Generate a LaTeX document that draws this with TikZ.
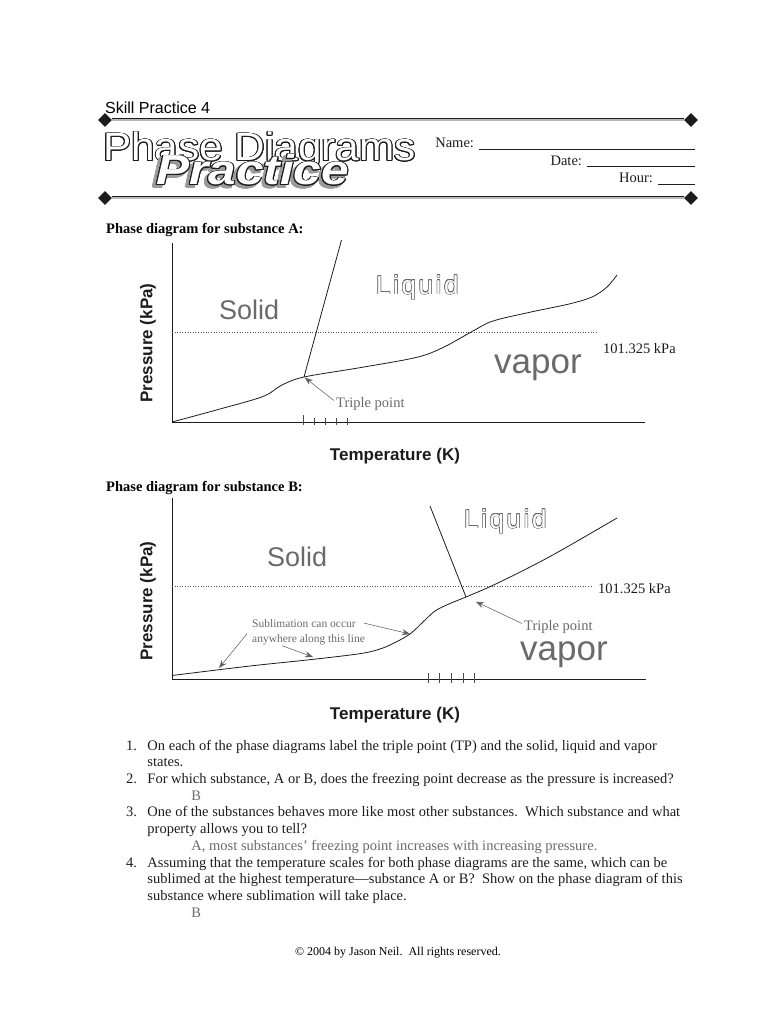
\documentclass[tikz,border=0pt]{standalone}
\usepackage{fontspec}
\setmainfont{Liberation Serif}
\setsansfont{Liberation Sans}
\usepackage{graphicx}
\usepackage{contour}
\usetikzlibrary{positioning}
\usetikzlibrary{shapes.geometric}
\usetikzlibrary{arrows.meta}
\definecolor{ink}{HTML}{1C1C1C}
\definecolor{pencil}{HTML}{6A6A6A}
\definecolor{shade}{HTML}{9A9A9A}
\contournumber{16}
\newcommand{\hollowtext}[3]{{\contourlength{#2}\contour{#1}{\textcolor{white}{#3}}}}
\newcommand{\answer}[1]{\textcolor{pencil}{#1}}
\tikzset{
  % header rules and the diamonds at their ends
  rule/.style={draw=ink, double=shade!70, double distance=1.8pt, line width=0.6pt},
  gem/.style={diamond, fill=ink, inner sep=0pt, minimum size=14pt},
  % axes, phase boundaries, the 1 atm line
  axis/.style={draw=ink, line width=1pt},
  boundary/.style={draw=ink, line width=0.8pt},
  atmline/.style={draw=ink!75, dotted, line width=0.6pt},
  tickmark/.style={draw=ink!80, line width=0.6pt},
  pointer/.style={-{Stealth[length=8pt, width=6pt]}, draw=ink!70, line width=0.5pt, fill=shade},
  % texts
  title/.style={font=\bfseries\fontsize{14.5}{16}\selectfont, inner sep=0pt},
  axislbl/.style={font=\sffamily\bfseries\fontsize{17}{20}\selectfont, text=ink, inner sep=0pt},
  phaselbl/.style={font=\sffamily\fontsize{#1}{#1}\selectfont, text=pencil, inner sep=0pt},
  body/.style={font=\fontsize{14.5}{16.7}\selectfont, text=ink, inner sep=0pt},
  note/.style={font=\fontsize{11.5}{14}\selectfont, text=pencil, inner sep=0pt},
}

\begin{document}
\begin{tikzpicture}[x=1pt, y=-1pt]
  \useasboundingbox (0,0) rectangle (768,1024);

  % --- Header -----------------------------------------------------------
  \node[font=\sffamily\fontsize{16}{18}\selectfont, anchor=base west, inner sep=0pt]
       (skill) at (105,113.5) {Skill Practice 4};

  \node[gem] (gemTL) at (105,120) {};
  \node[gem] (gemTR) at (691,120) {};
  \node[gem] (gemBL) at (105,198) {};
  \node[gem] (gemBR) at (691,198) {};
  \draw[rule] (gemTL) -- (gemTR);
  \draw[rule] (gemBL) -- (gemBR);

  \node[font=\sffamily\fontsize{39.5}{40}\selectfont, anchor=base west, inner sep=0pt]
       (banner) at (103,161) {\scalebox{1.07}[1]{\hollowtext{ink}{0.9pt}{Phase Diagrams}}};
  \node[font=\sffamily\bfseries\itshape\fontsize{42}{42}\selectfont, anchor=base west, inner sep=0pt]
       (bannershadow) at (153,187.5) {\scalebox{1.18}[1]{\hollowtext{shade}{1.2pt}{\textcolor{shade}{Practice}}}};
  \node[font=\sffamily\bfseries\itshape\fontsize{42}{42}\selectfont, anchor=base west, inner sep=0pt]
       (practice) at (156,185) {\scalebox{1.18}[1]{\hollowtext{ink}{0.9pt}{Practice}}};

  \node[body, anchor=base east] (name) at (695,148) {Name: \rule[-1.5pt]{216pt}{0.6pt}};
  \node[body, anchor=base east] (date) at (695,165.5) {Date: \rule[-1.5pt]{108pt}{0.6pt}};
  \node[body, anchor=base east] (hour) at (695,183) {Hour: \rule[-1.5pt]{37pt}{0.6pt}};

  % --- Phase diagram A ---------------------------------------------------
  \node[title, anchor=base west] (titleA) at (106,233.5) {Phase diagram for substance A:};

  \coordinate (oA) at (172,422);
  \coordinate (yA) at (172,243);
  \coordinate (xA) at (645,422);
  \coordinate (tpA) at (304,377);
  \coordinate (meltA) at (341.5,240);
  \draw[axis] (yA) -- (oA) -- (xA);
  \draw[atmline] (172,332) -- (598,332);
  \foreach \t/\h in {303/7, 314/4, 325/4, 336.5/4, 347.5/4}
    \draw[tickmark] (\t,425) -- (\t,425-\h-3);

  \draw[boundary] plot[smooth, tension=0.55] coordinates {(oA) (220,409) (263,396.5)
    (282,385) (tpA) (358,368) (416,357.5) (443,347.5) (473,331) (493,321) (531,312)
    (569,304) (592,297) (607,287) (617,275)};
  \draw[boundary] (tpA) -- (meltA);

  \node[phaselbl=27, anchor=base west] (solidA) at (219,319) {Solid};
  \node[phaselbl=26, anchor=base west] (liquidA) at (376,294)
       {\addfontfeature{LetterSpace=10}\hollowtext{pencil}{0.5pt}{Liquid}};
  \node[phaselbl=35, anchor=base west] (vaporA) at (494,373) {vapor};
  \node[body, anchor=base west] (atmA) at (603,353.5) {101.325 kPa};

  \node[body, text=pencil, anchor=base west] (tplblA) at (336,407) {Triple point};
  \draw[pointer, shorten >=1pt] ([xshift=-2pt, yshift=3pt]tplblA.west) -- (tpA);

  \node[axislbl, rotate=90] (presA) at (148,343) {Pressure (kPa)};
  \node[axislbl, anchor=base] (tempA) at (395,460) {Temperature (K)};

  % --- Phase diagram B ---------------------------------------------------
  \node[title, anchor=base west] (titleB) at (106,491) {Phase diagram for substance B:};

  \coordinate (oB) at (172,679);
  \coordinate (yB) at (172,498);
  \coordinate (xB) at (646,679);
  \coordinate (tpB) at (466,597);
  \coordinate (meltB) at (430,506);
  \draw[axis] (yB) -- (oB) -- (xB);
  \draw[atmline] (172,586) -- (592,586);
  \foreach \t in {428.5, 439.5, 451, 463, 474.5}
    \draw[tickmark] (\t,683) -- (\t,673);

  \draw[boundary] plot[smooth, tension=0.55] coordinates {(172,675.5) (250,666)
    (307,660) (359,653.8) (380,649) (395,642.5) (410,634) (423,622) (435,611)
    (450,603.5) (tpB) (497,583.4) (550,556.5) (617,518)};
  \draw[boundary] (tpB) -- (meltB);

  \node[phaselbl=27, anchor=base west] (solidB) at (267,566) {Solid};
  \node[phaselbl=26, anchor=base west] (liquidB) at (464,528)
       {\addfontfeature{LetterSpace=10}\hollowtext{pencil}{0.5pt}{Liquid}};
  \node[phaselbl=35, anchor=base west] (vaporB) at (520,660.5) {vapor};
  \node[body, anchor=base west] (atmB) at (598,593) {101.325 kPa};

  \node[body, text=pencil, anchor=base west] (tplblB) at (524,630) {Triple point};
  \draw[pointer, shorten >=11pt] ([xshift=-2pt, yshift=3pt]tplblB.west) -- (tpB);

  \node[note, anchor=base west] (sublim) at (252,627) {Sublimation can occur};
  \node[note, anchor=base west] (anywhere) at (252,642) {anywhere along this line};
  \coordinate (sub1) at (410,634);
  \coordinate (sub2) at (313,657);
  \coordinate (sub3) at (219,668);
  \draw[pointer] ([xshift=8pt]sublim.east) -- (sub1);
  \draw[pointer] ([xshift=30pt, yshift=-1pt]anywhere.south west) -- (sub2);
  \draw[pointer] ([xshift=-5pt]anywhere.north west) -- (sub3);

  \node[axislbl, rotate=90] (presB) at (148,601) {Pressure (kPa)};
  \node[axislbl, anchor=base] (tempB) at (395,719) {Temperature (K)};

  % --- Questions ---------------------------------------------------------
  \node[body, anchor=north west] (questions) at (125.8,738.3) {%
    \begin{tabular}{@{}r@{\hspace{10.6pt}}l@{}}
      1. & On each of the phase diagrams label the triple point (TP) and the solid, liquid and vapor\\
         & states.\\
      2. & For which substance, A or B, does the freezing point decrease as the pressure is increased?\\
         & \hspace{44pt}\answer{B}\\
      3. & One of the substances behaves more like most other substances.\ \ Which substance and what\\
         & property allows you to tell?\\
         & \hspace{44pt}\answer{A, most substances’ freezing point increases with increasing pressure.}\\
      4. & Assuming that the temperature scales for both phase diagrams are the same, which can be\\
         & sublimed at the highest temperature---substance A or B?\ \ Show on the phase diagram of this\\
         & substance where sublimation will take place.\\
         & \hspace{44pt}\answer{B}\\
    \end{tabular}};

  \node[font=\fontsize{12}{14}\selectfont, anchor=base, inner sep=0pt] (copyright)
       at (398,955) {© 2004 by Jason Neil.\ \ All rights reserved.};
\end{tikzpicture}
\end{document}
